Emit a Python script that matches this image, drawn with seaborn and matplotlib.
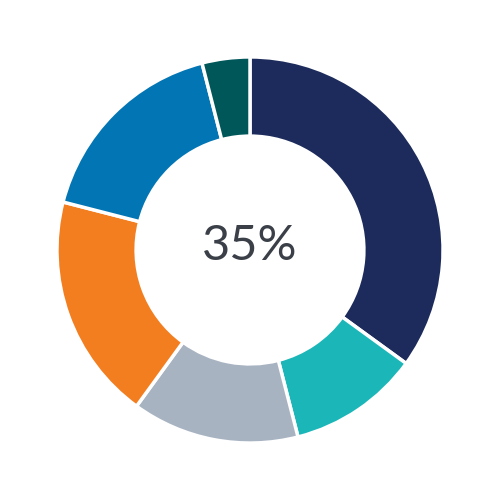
import matplotlib
matplotlib.use('Agg')
import matplotlib.pyplot as plt
import seaborn as sns

# slices, clockwise from 12 o'clock
labels = ['Navy', 'Teal', 'Gray', 'Orange', 'Blue', 'Green']
shares = [35, 11, 14, 19, 17, 4]
colors = ['#1c2b5b', '#1bb6b8', '#a8b3c2', '#f37e20', '#0275b4', '#00575a']
center_text = '35%'

sns.set_theme(style='white')
plt.rcParams['font.family'] = ['Lato', 'DejaVu Sans']

fig = plt.figure(figsize=(5, 5), dpi=100)
ax = fig.add_axes([0, 0, 1, 1])
ax.pie(shares, colors=sns.color_palette(colors), startangle=90, counterclock=False,
       radius=1, wedgeprops=dict(width=0.41, edgecolor='white', linewidth=2.5))
ax.text(0, 0.02, center_text, ha='center', va='center', fontsize=35,
        color='#3b3f48', fontweight='normal')
ax.set_xlim(-1.295, 1.295)
ax.set_ylim(-1.295, 1.295)
ax.set_aspect('equal')
ax.axis('off')

fig.savefig('out.png', dpi=100, facecolor='white')
